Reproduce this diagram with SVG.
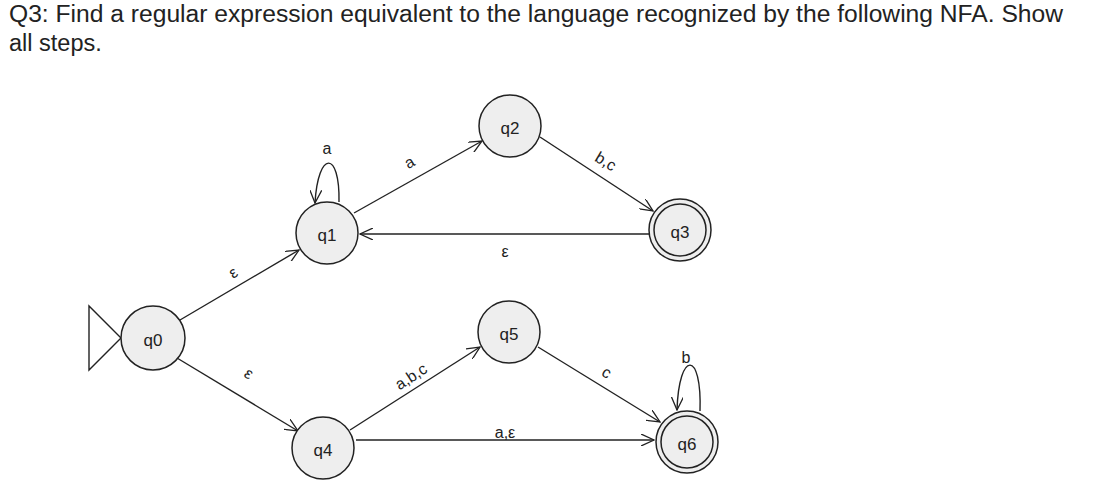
<svg xmlns="http://www.w3.org/2000/svg" width="1095" height="496" viewBox="0 0 1095 496">
<style>
text{font-family:"Liberation Sans",Arial,sans-serif;fill:#222}
.t{font-size:23.5px}
.n{font-size:17px;text-anchor:middle;dominant-baseline:central}
.l{font-size:16px;text-anchor:middle}
circle{fill:#eeeeee;stroke:#222;stroke-width:1.5}
.in{fill:none}
.e{fill:none;stroke:#222;stroke-width:1.4;marker-end:url(#a)}
</style>
<defs>
<marker id="a" viewBox="0 0 14 12" refX="13" refY="6" markerWidth="14" markerHeight="12" markerUnits="userSpaceOnUse" orient="auto">
<polyline points="0,0 13,6 0,12" fill="none" stroke="#222" stroke-width="1.3"/>
</marker>
</defs>
<rect width="1095" height="496" fill="#fff"/>
<text class="t" x="9" y="22" textLength="1054" lengthAdjust="spacingAndGlyphs">Q3: Find a regular expression equivalent to the language recognized by the following NFA. Show</text>
<text class="t" x="9" y="51">all steps.</text>
<g id="edges">
<polygon points="89,306 89,370 121,338" fill="#fff" stroke="#222" stroke-width="1.4"/>
<line class="e" x1="180" y1="320" x2="299" y2="250"/>
<line class="e" x1="177" y1="358" x2="298" y2="431"/>
<line class="e" x1="354" y1="213" x2="482" y2="141"/>
<line class="e" x1="540" y1="137" x2="653" y2="211"/>
<line class="e" x1="649" y1="234" x2="360" y2="234"/>
<line class="e" x1="350" y1="430" x2="480" y2="347"/>
<line class="e" x1="538" y1="347" x2="660" y2="422"/>
<line class="e" x1="356" y1="440" x2="654" y2="440"/>
<path class="e" d="M339,202 C340,150 318,150 315,203"/>
<path class="e" d="M700,411 C702,350 679,350 677,410"/>
</g>
<g id="labels">
<text class="l" transform="translate(236,277) rotate(-33)">ε</text>
<text class="l" transform="translate(246,378) rotate(33)">ε</text>
<text class="l" x="327" y="154">a</text>
<text class="l" transform="translate(412,167) rotate(-30)">a</text>
<text class="l" transform="translate(603,166) rotate(31)">b,c</text>
<text class="l" x="505" y="257">ε</text>
<text class="l" transform="translate(414,381) rotate(-33)">a,b,c</text>
<text class="l" transform="translate(604,377) rotate(31)">c</text>
<text class="l" x="505" y="438">a,ε</text>
<text class="l" x="686" y="363">b</text>
</g>
<g id="q0"><circle cx="153" cy="338" r="32"/><text class="n" x="153" y="340">q0</text></g>
<g id="q1"><circle cx="327" cy="233" r="31"/><text class="n" x="327" y="235">q1</text></g>
<g id="q2"><circle cx="510" cy="126" r="31"/><text class="n" x="510" y="128">q2</text></g>
<g id="q3"><circle cx="680" cy="230" r="31"/><circle class="in" cx="680" cy="230" r="26"/><text class="n" x="680" y="232">q3</text></g>
<g id="q4"><circle cx="323" cy="448" r="31"/><text class="n" x="323" y="450">q4</text></g>
<g id="q5"><circle cx="509" cy="332" r="31"/><text class="n" x="509" y="334">q5</text></g>
<g id="q6"><circle cx="687" cy="442" r="31"/><circle class="in" cx="687" cy="442" r="26"/><text class="n" x="687" y="444">q6</text></g>
</svg>
